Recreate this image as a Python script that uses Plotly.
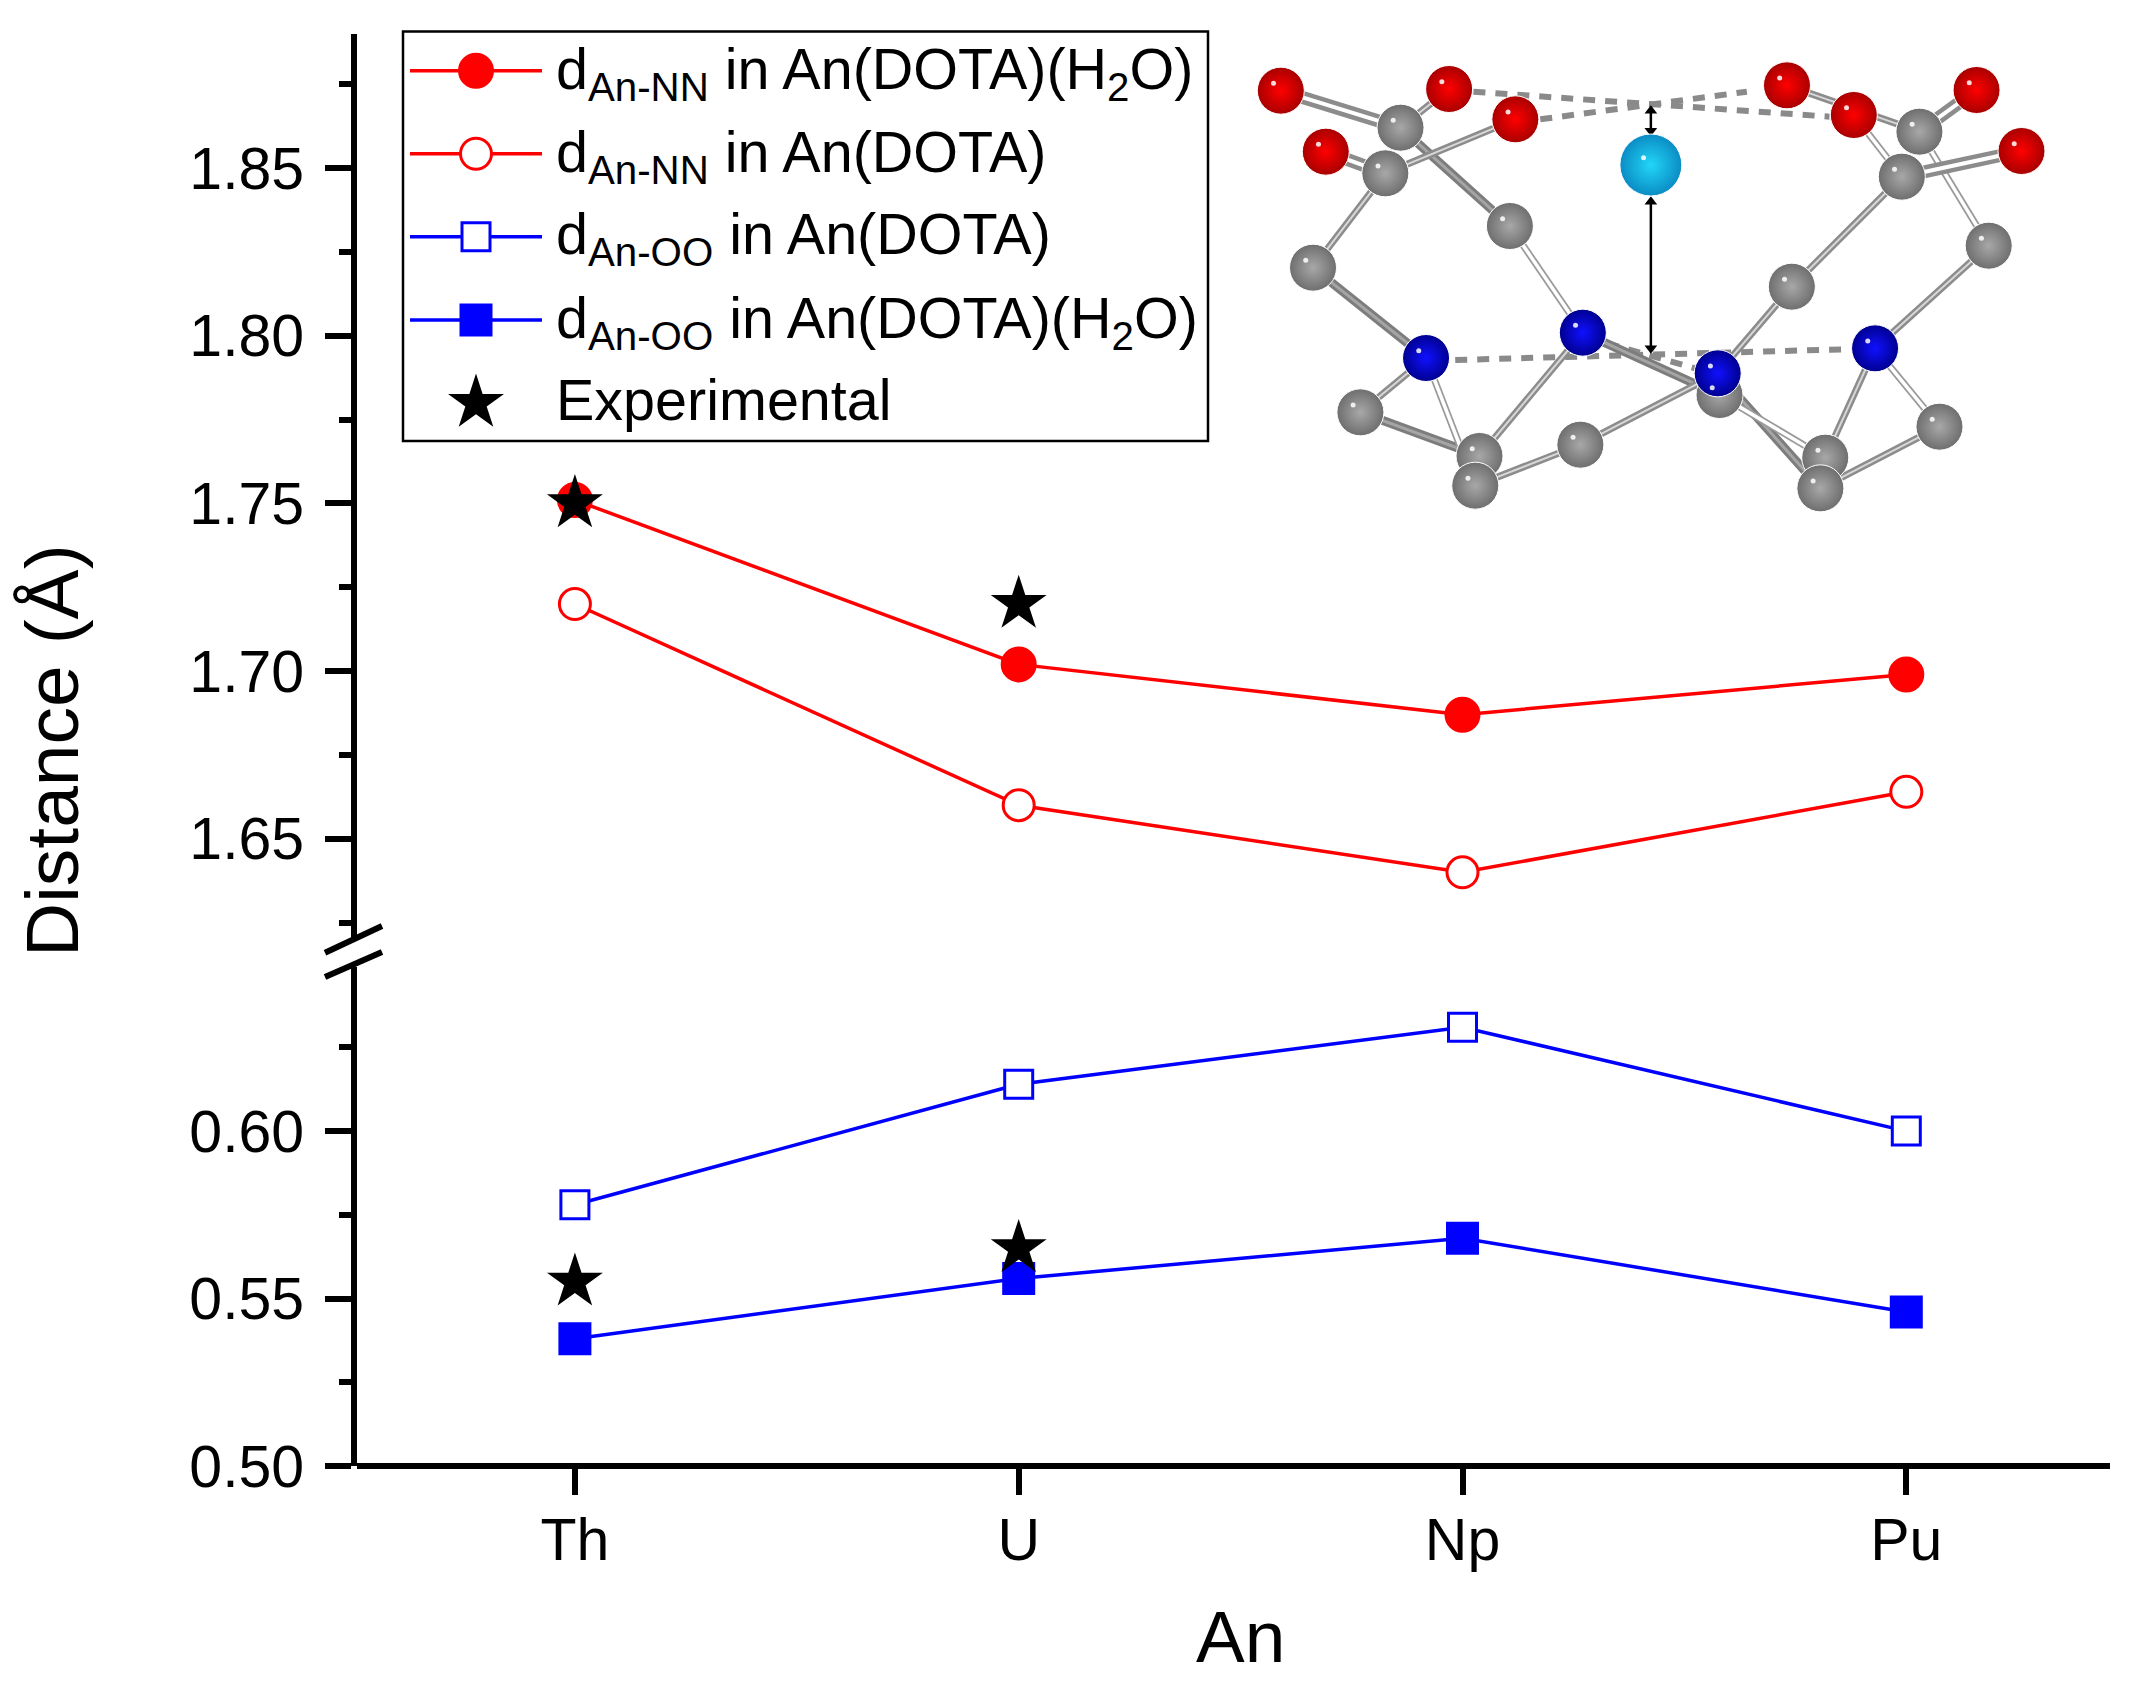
import plotly.graph_objects as go

an = ['Th', 'U', 'Np', 'Pu']
nn_h2o = [1.751, 1.702, 1.687, 1.699]
nn_dry = [1.720, 1.660, 1.640, 1.664]
oo_dry = [0.578, 0.614, 0.631, 0.600]
oo_h2o = [0.538, 0.556, 0.568, 0.546]
exp_an = ['Th', 'U']
exp_nn = [1.750, 1.720]
exp_oo = [0.555, 0.565]

# molecule inset (inset units, y down)
atom_x = [133, 519, 207, 410, 330, 305, 966, 1184, 1278, 1155, 1076, 1352,
          186, 510, 1298, 974, 264, 460, 453, 626, 855, 1029, 1021, 1217,
          372, 630, 852, 1111, 742]
atom_y = [212, 298, 395, 207, 323, 460, 196, 335, 210, 470, 285, 393,
          743, 618, 677, 800, 1177, 1308, 1397, 1274, 1125, 1313, 1405, 1220,
          1014, 938, 1060, 985, 435]
atom_kind = ['O', 'O', 'O', 'O', 'C', 'C', 'O', 'C', 'O', 'C', 'O', 'O',
             'C', 'C', 'C', 'C', 'C', 'C', 'C', 'C', 'C', 'C', 'C', 'C',
             'N', 'N', 'N', 'N', 'An']
bonds_thick = [(4, 13), (12, 24), (16, 17), (25, 20), (26, 22)]
bonds_plain = [(3, 4), (1, 5), (5, 12), (24, 16), (25, 17), (18, 19), (19, 26),
               (15, 26), (15, 9), (6, 7), (14, 27), (27, 21), (23, 22)]
bonds_white = [(13, 25), (24, 18), (20, 21), (9, 10), (7, 14), (27, 23)]
bonds_double = [(0, 4), (2, 5), (9, 11), (7, 8)]
dash_x = [450, 1036, None, 560, 900, None, 420, 1060, None, 670, 815]
dash_y = [215, 290, None, 298, 215, None, 1020, 988, None, 970, 1045]
arrow_x = [742, 742, None, 742, 742]
arrow_y = [272, 332, None, 545, 985]

kind_edge = {'O': '#a80000', 'C': '#6e6e6e', 'N': '#000090', 'An': '#0a8cc4'}
kind_mid = {'O': '#ff0000', 'C': '#a8a8a8', 'N': '#1010ff', 'An': '#22d6f8'}
kind_size = {'O': 47, 'C': 47, 'N': 47, 'An': 62}

legend_labels = [
    'd<sub>An-NN</sub> in An(DOTA)(H<sub>2</sub>O)',
    'd<sub>An-NN</sub> in An(DOTA)',
    'd<sub>An-OO</sub> in An(DOTA)',
    'd<sub>An-OO</sub> in An(DOTA)(H<sub>2</sub>O)',
    'Experimental',
]
legend_shift = [-3, -3, -2, -3, 3]

W, H = 2132, 1670
OFF = 8
LABEL_FONT = 'Liberation Sans'
STAR_SIZE = 42


def px_x(p):
    return (p - OFF) / W


def px_y(p):
    return 1 - (p - OFF) / H


fig = go.Figure()

lines = [
    (nn_h2o, 'y2', 'circle', '#ff0000', '#ff0000', 33),
    (nn_dry, 'y2', 'circle', '#ffffff', '#ff0000', 31),
    (oo_dry, 'y', 'square', '#ffffff', '#0000ff', 28),
    (oo_h2o, 'y', 'square', '#0000ff', '#0000ff', 30),
]
for vals, yax, sym, fill, col, ms in lines:
    fig.add_trace(go.Scatter(
        x=an, y=vals, yaxis=yax, mode='lines+markers',
        line=dict(color=col, width=3.5),
        marker=dict(symbol=sym, size=ms, color=fill, line=dict(color=col, width=3)),
    ))

fig.add_trace(go.Scatter(
    x=exp_an, y=exp_nn, yaxis='y2', mode='markers',
    marker=dict(symbol='star', size=STAR_SIZE, color='black'),
))
fig.add_trace(go.Scatter(
    x=exp_an, y=exp_oo, yaxis='y', mode='markers',
    marker=dict(symbol='star', size=STAR_SIZE, color='black'),
))

# hand built legend, native one caps its markers at 16px
for row, (vals, yax, sym, fill, col, ms) in enumerate(lines):
    fig.add_trace(go.Scatter(
        x=[-1, 0, 1], y=[row, row, row], xaxis='x4', yaxis='y4', mode='lines+markers',
        hoverinfo='skip', line=dict(color=col, width=3.5),
        marker=dict(symbol=sym, size=[0, ms, 0], opacity=1, color=fill, line=dict(color=col, width=3)),
    ))
fig.add_trace(go.Scatter(
    x=[0], y=[4], xaxis='x4', yaxis='y4', mode='markers', hoverinfo='skip',
    marker=dict(symbol='star', size=STAR_SIZE, color='black'),
))


def add_bonds(pairs, outer, inner, w_outer, w_inner):
    xs, ys = [], []
    for a, b in pairs:
        xs += [atom_x[a], atom_x[b], None]
        ys += [atom_y[a], atom_y[b], None]
    for col, w in ((outer, w_outer), (inner, w_inner)):
        fig.add_trace(go.Scatter(
            x=xs, y=ys, xaxis='x3', yaxis='y3', mode='lines',
            hoverinfo='skip', line=dict(color=col, width=w),
        ))


fig.add_trace(go.Scatter(
    x=dash_x, y=dash_y, xaxis='x3', yaxis='y3', mode='lines',
    hoverinfo='skip', line=dict(color='#8a8a8a', width=6, dash='12px 10px'),
))
add_bonds(bonds_thick, '#7d7d7d', '#a5a5a5', 9, 3)
add_bonds(bonds_plain, '#8c8c8c', '#d8d8d8', 7, 2)
add_bonds(bonds_white, '#9a9a9a', '#ffffff', 7, 3.5)
add_bonds(bonds_double, '#8c8c8c', '#ffffff', 13, 4)

fig.add_trace(go.Scatter(
    x=arrow_x, y=arrow_y, xaxis='x3', yaxis='y3', mode='lines',
    hoverinfo='skip', line=dict(color='black', width=2.5),
))
fig.add_trace(go.Scatter(
    x=[742, 742], y=[272, 545], xaxis='x3', yaxis='y3', mode='markers',
    hoverinfo='skip', marker=dict(symbol='triangle-up', size=11, color='black'),
))
fig.add_trace(go.Scatter(
    x=[742, 742], y=[332, 985], xaxis='x3', yaxis='y3', mode='markers',
    hoverinfo='skip', marker=dict(symbol='triangle-down', size=11, color='black'),
))

fig.add_trace(go.Scatter(
    x=atom_x, y=atom_y, xaxis='x3', yaxis='y3', mode='markers',
    hoverinfo='skip',
    marker=dict(
        size=[kind_size[k] for k in atom_kind],
        opacity=1,
        color=[kind_edge[k] for k in atom_kind],
        gradient=dict(type='radial', color=[kind_mid[k] for k in atom_kind]),
    ),
))
fig.add_trace(go.Scatter(
    x=[v - 12 for v in atom_x], y=[v - 22 for v in atom_y], xaxis='x3', yaxis='y3',
    mode='markers', hoverinfo='skip',
    marker=dict(size=5, color='rgba(255,255,255,0.85)'),
))

tick_font = dict(family=LABEL_FONT, size=59, color='black')
y_common = dict(
    showline=True, linecolor='black', linewidth=6, showgrid=False, zeroline=False,
    automargin=False, ticks='outside', ticklen=26, tickwidth=6, tickcolor='black',
    tickfont=tick_font, tickformat='.2f', dtick=0.05, ticklabelstandoff=9,
    minor=dict(dtick=0.025, ticks='outside', ticklen=12, tickwidth=6, tickcolor='black', showgrid=False),
)

notes = [
    dict(text='Distance (Å)', xref='paper', yref='paper', x=px_x(52), y=px_y(751), textangle=-90,
         xanchor='center', yanchor='middle', showarrow=False,
         font=dict(family=LABEL_FONT, size=75, color='black')),
    dict(text='An', xref='paper', yref='paper', x=px_x(1240), y=px_y(1636),
         xanchor='center', yanchor='middle', showarrow=False,
         font=dict(family=LABEL_FONT, size=73, color='black')),
]
for row, label in enumerate(legend_labels):
    notes.append(dict(
        text=label, xref='paper', yref='y4', x=px_x(554), y=row, yshift=legend_shift[row],
        xanchor='left', yanchor='middle', align='left', showarrow=False,
        font=dict(family=LABEL_FONT, size=57.5, color='black'),
    ))

fig.update_layout(
    width=W, height=H,
    margin=dict(l=0, r=0, t=0, b=0),
    paper_bgcolor='white', plot_bgcolor='rgba(0,0,0,0)',
    font=dict(family=LABEL_FONT, color='black'),
    showlegend=False,
    xaxis=dict(
        domain=[px_x(357), px_x(2110)], anchor='free', position=px_y(1466), type='category',
        automargin=False, categoryorder='array', categoryarray=an, range=[-0.491, 3.459],
        showline=True, linecolor='black', linewidth=6, showgrid=False,
        ticks='outside', ticklen=26, tickwidth=6, tickcolor='black', tickfont=tick_font,
        ticklabelstandoff=-6,
    ),
    yaxis=dict(domain=[px_y(1466), px_y(967)], anchor='x', range=[0.5, 0.649], tick0=0.5, **y_common),
    yaxis2=dict(domain=[px_y(937), px_y(34)], anchor='x', range=[1.6207, 1.89], tick0=1.5, **y_common),
    xaxis3=dict(domain=[px_x(1200), px_x(2140)], anchor='y3', range=[0, 1547], visible=False),
    yaxis3=dict(domain=[px_y(540), px_y(20)], anchor='x3', range=[1560, 0], visible=False),
    xaxis4=dict(domain=[px_x(410), px_x(542)], anchor='y4', range=[-1, 1], visible=False),
    yaxis4=dict(domain=[px_y(442), px_y(31)], anchor='x4', range=[4.47, -0.478], visible=False),
    shapes=[
        dict(type='line', xref='paper', yref='paper', x0=px_x(325), y0=px_y(952.7), x1=px_x(382), y1=px_y(926),
             line=dict(color='black', width=6)),
        dict(type='line', xref='paper', yref='paper', x0=px_x(325), y0=px_y(977), x1=px_x(382), y1=px_y(952),
             line=dict(color='black', width=6)),
        dict(type='rect', xref='paper', yref='paper', x0=px_x(403), y0=px_y(441), x1=px_x(1208), y1=px_y(31.5),
             line=dict(color='black', width=2.5)),
    ],
    annotations=notes,
)

fig.write_html("out.html")
